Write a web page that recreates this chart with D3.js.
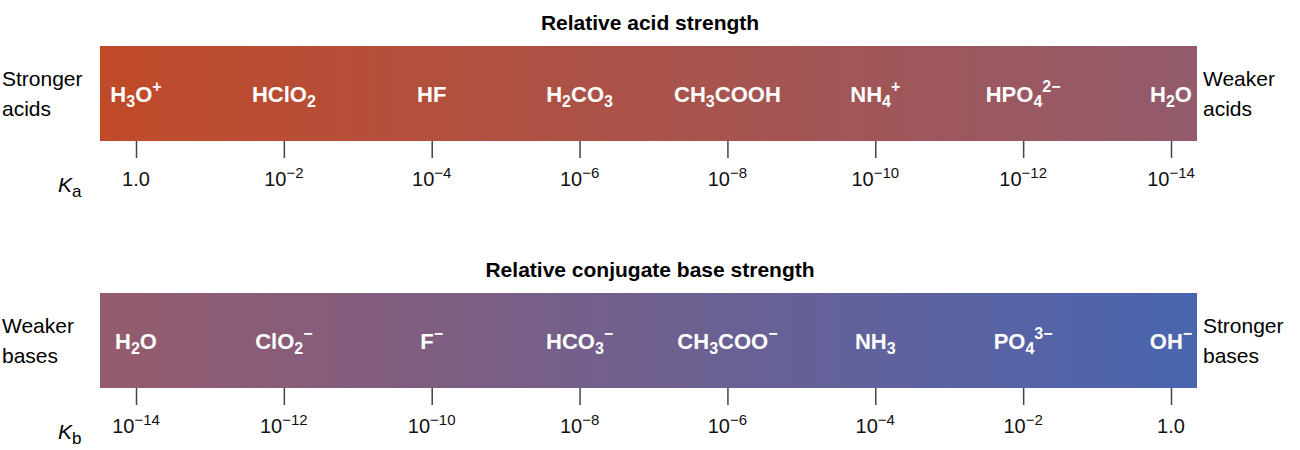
<!DOCTYPE html>
<html><head><meta charset="utf-8">
<script src="https://cdn.jsdelivr.net/npm/d3@7"></script>
<style>body{margin:0;background:#fff}text{font-family:"Liberation Sans",Arial,sans-serif}</style>
</head><body><svg id="c" width="1300" height="450"></svg>
<script>
// ── Data ────────────────────────────────────────────────
// each species: list of [text, "n"|"sub"|"sup"]
const ACIDS = [
  [["H","n"],["3","sub"],["O","n"],["+","sup"]],
  [["HClO","n"],["2","sub"]],
  [["HF","n"]],
  [["H","n"],["2","sub"],["CO","n"],["3","sub"]],
  [["CH","n"],["3","sub"],["COOH","n"]],
  [["NH","n"],["4","sub"],["+","sup"]],
  [["HPO","n"],["4","sub"],["2−","sup"]],
  [["H","n"],["2","sub"],["O","n"]],
];
const BASES = [
  [["H","n"],["2","sub"],["O","n"]],
  [["ClO","n"],["2","sub"],["−","sup"]],
  [["F","n"],["−","sup"]],
  [["HCO","n"],["3","sub"],["−","sup"]],
  [["CH","n"],["3","sub"],["COO","n"],["−","sup"]],
  [["NH","n"],["3","sub"]],
  [["PO","n"],["4","sub"],["3−","sup"]],
  [["OH","n"],["−","sup"]],
];
const KA_EXP = [0, -2, -4, -6, -8, -10, -12, -14];
const KB_EXP = [-14, -12, -10, -8, -6, -4, -2, 0];

const svg = d3.select("#c");
const x = d3.scalePoint().domain(d3.range(8)).range([136, 1171]);

function panel(cfg) {
  const g = svg.append("g");
  const id = "grad" + cfg.key;
  const gr = svg.append("defs").append("linearGradient").attr("id", id);
  gr.append("stop").attr("offset", "0%").attr("stop-color", cfg.c0);
  gr.append("stop").attr("offset", "100%").attr("stop-color", cfg.c1);

  g.append("text").attr("x", 650).attr("y", cfg.y0 - 16).attr("text-anchor", "middle")
    .attr("font-size", 21).attr("font-weight", "bold").text(cfg.title);
  g.append("rect").attr("x", 100).attr("y", cfg.y0).attr("width", 1097).attr("height", 95)
    .attr("fill", `url(#${id})`);

  cfg.species.forEach((parts, i) => {
    const t = g.append("text").attr("x", x(i)).attr("y", cfg.y0 + 56)
      .attr("text-anchor", "middle").attr("fill", "#fff").attr("font-weight", "bold").attr("font-size", 22);
    parts.forEach(([s, k]) => {
      const ts = t.append("tspan").text(s);
      if (k === "sub") ts.attr("font-size", 16).attr("baseline-shift", "-30%");
      if (k === "sup") ts.attr("font-size", 16).attr("baseline-shift", "60%");
      if (k !== "n") { /* reset baseline for next part */ }
    });
  });

  const axis = d3.axisBottom(x).tickSize(17).tickFormat("");
  const ag = g.append("g").attr("transform", `translate(0,${cfg.y0 + 95})`).call(axis);
  ag.select(".domain").remove();
  ag.selectAll("line").attr("stroke", "#444").attr("stroke-width", 1.5);

  cfg.exps.forEach((e, i) => {
    const t = g.append("text").attr("x", x(i)).attr("y", cfg.y0 + 140)
      .attr("text-anchor", "middle").attr("font-size", 20).attr("fill", "#111");
    if (e === 0) t.text("1.0");
    else {
      t.append("tspan").text("10");
      t.append("tspan").attr("font-size", 15).attr("baseline-shift", "55%").text("−" + (-e));
    }
  });

  const k = g.append("text").attr("x", 58).attr("y", cfg.y0 + 146).attr("font-size", 21);
  k.append("tspan").attr("font-style", "italic").text("K");
  k.append("tspan").attr("font-size", 17).attr("baseline-shift", "-30%").text(cfg.ksub);

  [cfg.left, cfg.right].forEach((lines, j) => {
    const t = g.append("text").attr("x", j ? 1203 : 2).attr("y", cfg.y0 + 40).attr("font-size", 21);
    lines.forEach((l, n) => t.append("tspan").attr("x", j ? 1203 : 2).attr("dy", n ? 30 : 0).text(l));
  });
}

panel({ key: "a", y0: 46, title: "Relative acid strength", species: ACIDS, exps: KA_EXP,
  c0: "#c04a29", c1: "#935b6c", ksub: "a",
  left: ["Stronger", "acids"], right: ["Weaker", "acids"] });
panel({ key: "b", y0: 293, title: "Relative conjugate base strength", species: BASES, exps: KB_EXP,
  c0: "#955b6d", c1: "#4a65b0", ksub: "b",
  left: ["Weaker", "bases"], right: ["Stronger", "bases"] });
</script></body></html>
